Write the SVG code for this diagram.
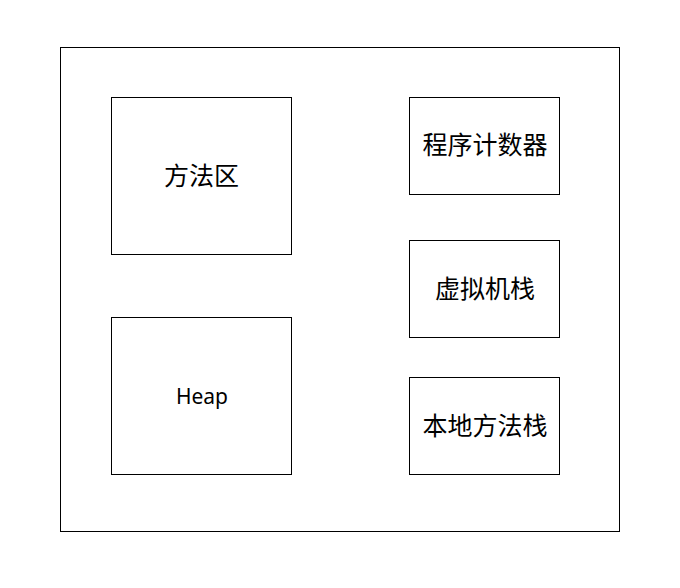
<svg xmlns="http://www.w3.org/2000/svg" width="680" height="588" viewBox="0 0 680 588">
<style>
rect{fill:#fff;stroke:#000;stroke-width:1}
.cjk{font-family:"Noto Sans CJK SC","Noto Sans",sans-serif;font-size:25px;fill:#000;text-anchor:middle}
.lat{font-family:"Noto Sans","Open Sans",sans-serif;font-size:21px;fill:#000;text-anchor:middle}
</style>
<rect x="0" y="0" width="680" height="588" style="stroke:none"/>
<g id="outer"><rect x="60.5" y="47.5" width="559" height="484"/></g>
<g id="method-area"><rect x="111.5" y="97.5" width="180" height="157"/><text class="cjk" x="201.5" y="184.5">方法区</text></g>
<g id="heap"><rect x="111.5" y="317.5" width="180" height="157"/><text class="lat" x="202" y="404">Heap</text></g>
<g id="pc"><rect x="409.5" y="97.5" width="150" height="97"/><text class="cjk" x="485" y="153.5">程序计数器</text></g>
<g id="vm-stack"><rect x="409.5" y="240.5" width="150" height="97"/><text class="cjk" x="485" y="298">虚拟机栈</text></g>
<g id="native-stack"><rect x="409.5" y="377.5" width="150" height="97"/><text class="cjk" x="485" y="434.5">本地方法栈</text></g>
<g id="connectors"></g>
</svg>
